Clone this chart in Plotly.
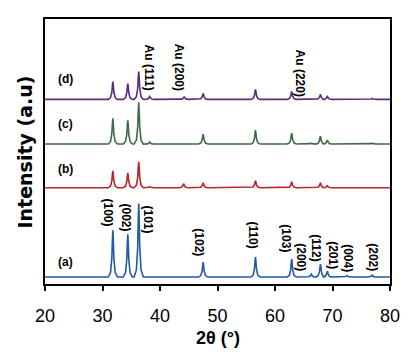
import plotly.graph_objects as go

# ---- data (2θ in degrees, intensity in arbitrary units) ----
pos_a = [31.8, 34.4, 36.3, 47.5, 56.6, 62.9, 66.3, 67.9, 69.1, 72.5, 76.9]
int_a = [47, 43, 74, 15, 20, 18, 3, 13, 6, 1.5, 2]

pos_b = [31.8, 34.4, 36.3, 38.2, 44.1, 47.5, 56.6, 62.9, 67.9, 69.1]
int_b = [17, 15, 26, 1, 4, 5, 7, 6, 5, 2]

pos_c = [31.8, 34.4, 36.3, 38.2, 47.5, 56.6, 62.9, 66.3, 67.9, 69.1, 76.9]
int_c = [26, 24, 42, 2, 10, 14, 11, 1, 8, 4, 1]

pos_d = [31.8, 34.4, 36.3, 38.2, 44.2, 47.5, 56.6, 62.9, 67.9, 69.1, 76.9]
int_d = [18, 16, 28, 3, 2.5, 6, 10, 8, 5, 3, 1]

series_names = ["(a)", "(b)", "(c)", "(d)"]
offsets = [7, 97, 141, 186]
colors = ["#1f5aa6", "#b8262a", "#3f6b45", "#5a2c7c"]

hkl_labels = ["(100)", "(002)", "(101)", "(102)", "(110)", "(103)", "(200)",
              "(112)", "(201)", "(004)", "(202)"]
hkl_x = [30.96, 34.09, 37.91, 46.78, 56.17, 61.91, 64.52, 67.13, 70.09, 72.7, 77.04]
hkl_y = [72, 67, 65, 42, 49, 46, 27, 37, 29, 26, 27]

au_labels = ["Au (111)", "Au (200)", "Au (220)"]
au_x = [38.09, 43.3, 64.35]
au_y = [218, 218, 213]

x_ticks = [20, 30, 40, 50, 60, 70, 80]

# peak profile template (offset in degrees, fraction of height)
prof_dx = [-0.8, -0.4, -0.18, -0.06, 0, 0.06, 0.18, 0.4, 0.8]
prof_f = [0, 0.1, 0.4, 0.85, 1, 0.85, 0.4, 0.1, 0]


def build(pos, inten, off):
    xs, ys = [20.0], [off]
    for p, h in zip(pos, inten):
        for dx, f in zip(prof_dx, prof_f):
            xs.append(p + dx)
            ys.append(off + h * f)
    xs.append(80.0)
    ys.append(off)
    return xs, ys


fig = go.Figure()
all_data = [(pos_a, int_a), (pos_b, int_b), (pos_c, int_c), (pos_d, int_d)]
for (pos, inten), off, col, nm in zip(all_data, offsets, colors, series_names):
    xs, ys = build(pos, inten, off)
    fig.add_trace(go.Scatter(x=xs, y=ys, mode="lines", name=nm,
                             line=dict(color=col, width=1.6), showlegend=False))

lab_font = dict(family="Liberation Sans, Arial", size=12, color="black", weight="bold")
annots = []
for t, x, y in zip(hkl_labels + au_labels, hkl_x + au_x, hkl_y + au_y):
    annots.append(dict(x=x, y=y, xref="x", yref="y", text=t, showarrow=False,
                       textangle=90, font=lab_font))
lab_y = [22, 116, 161, 207]
for nm, y in zip(series_names, lab_y):
    annots.append(dict(x=23.5, y=y, xref="x", yref="y", text=nm, showarrow=False,
                       font=lab_font))

# axis titles
annots.append(dict(x=-0.058, y=0.5, xref="paper", yref="paper", text="Intensity (a.u)",
                   showarrow=False, textangle=-90, xanchor="center", yanchor="middle",
                   font=dict(family="DejaVu Sans", size=19, color="black", weight="bold")))
annots.append(dict(x=0.5, y=-0.202, xref="paper", yref="paper", text="2θ (°)",
                   showarrow=False, xanchor="center", yanchor="middle",
                   font=dict(family="Liberation Sans, Arial", size=18, color="black",
                             weight="bold")))

# the page body has an 8px default margin, so the figure is 8px smaller
fig.update_layout(
    width=410, height=350,
    margin=dict(l=37, r=28, t=9, b=74),
    paper_bgcolor="white", plot_bgcolor="white",
    annotations=annots,
    xaxis=dict(range=[20, 80], tickvals=x_ticks, showline=True, mirror=True,
               linecolor="black", linewidth=2, ticks="outside", ticklen=5,
               tickwidth=1.5, tickcolor="black", showgrid=False, zeroline=False,
               ticklabelstandoff=9,
               tickfont=dict(family="Liberation Sans, Arial", size=18, color="black")),
    yaxis=dict(range=[0, 267], showline=True, mirror=True, linecolor="black",
               linewidth=2, showticklabels=False, ticks="", showgrid=False,
               zeroline=False),
)

fig.write_html("out.html")
